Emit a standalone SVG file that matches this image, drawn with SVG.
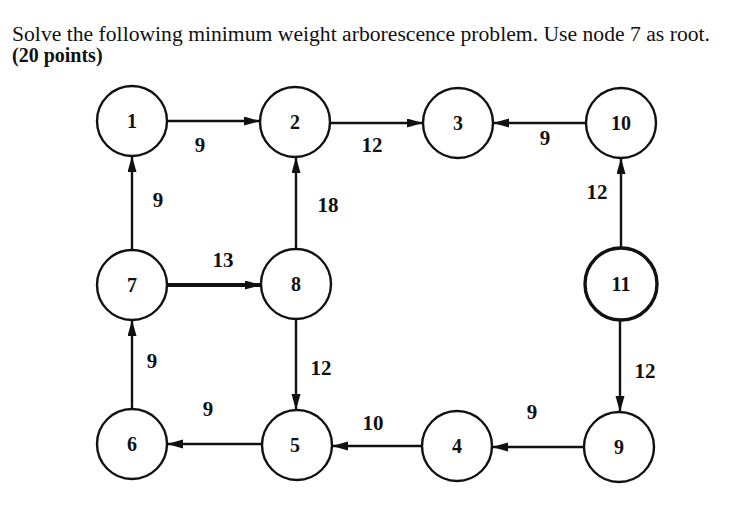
<svg xmlns="http://www.w3.org/2000/svg" width="736" height="531" viewBox="0 0 736 531">
<style>
.title{font-family:"Liberation Serif","Times New Roman",serif;font-size:20px;fill:#111}
.bold{font-weight:bold}
.node circle{fill:#fff;stroke:#111;stroke-width:2.4}
.node text{font-family:"Liberation Serif","Times New Roman",serif;font-size:20px;font-weight:bold;fill:#111;text-anchor:middle}
.edge{stroke:#111;stroke-width:2.4;fill:none;marker-end:url(#arr)}
.lbl{font-family:"Liberation Serif","Times New Roman",serif;font-size:21px;font-weight:bold;fill:#111;text-anchor:middle}
</style>
<defs>
<marker id="arr" markerUnits="userSpaceOnUse" markerWidth="17" markerHeight="10" refX="16" refY="4.5" orient="auto">
<path d="M0,0 L16,4.5 L0,9 z" fill="#111"/>
</marker>
</defs>
<rect width="736" height="531" fill="#fff"/>
<text class="title" x="12" y="41" textLength="698" lengthAdjust="spacingAndGlyphs">Solve the following minimum weight arborescence problem. Use node 7 as root.</text>
<text class="title bold" x="12" y="62">(20 points)</text>
<g id="connectors">
<line class="edge" x1="167" y1="121" x2="260" y2="121"/>
<line class="edge" x1="132" y1="250" x2="132" y2="156"/>
<line class="edge" x1="296" y1="249" x2="296" y2="157"/>
<line class="edge" x1="167" y1="285" x2="261" y2="285" style="stroke-width:4"/>
<line class="edge" x1="330" y1="123" x2="423" y2="123"/>
<line class="edge" x1="586" y1="123" x2="493" y2="123"/>
<line class="edge" x1="621" y1="247" x2="621" y2="158"/>
<line class="edge" x1="620" y1="321" x2="620" y2="412"/>
<line class="edge" x1="584" y1="447" x2="492" y2="447"/>
<line class="edge" x1="422" y1="446" x2="332" y2="446"/>
<line class="edge" x1="296" y1="319" x2="296" y2="410"/>
<line class="edge" x1="261" y1="444" x2="167" y2="444"/>
<line class="edge" x1="132" y1="409" x2="132" y2="320"/>
<text class="lbl" x="200" y="152">9</text>
<text class="lbl" x="158" y="207">9</text>
<text class="lbl" x="328" y="212">18</text>
<text class="lbl" x="223" y="267">13</text>
<text class="lbl" x="372" y="152">12</text>
<text class="lbl" x="545" y="145">9</text>
<text class="lbl" x="597" y="199">12</text>
<text class="lbl" x="645" y="378">12</text>
<text class="lbl" x="532" y="419">9</text>
<text class="lbl" x="373" y="430">10</text>
<text class="lbl" x="321" y="375">12</text>
<text class="lbl" x="208" y="416">9</text>
<text class="lbl" x="152" y="368">9</text>
</g>
<g id="node1" class="node"><circle cx="132" cy="121" r="35"/><text x="132" y="128">1</text></g>
<g id="node2" class="node"><circle cx="295" cy="122" r="35"/><text x="295" y="129">2</text></g>
<g id="node3" class="node"><circle cx="458" cy="123" r="35"/><text x="458" y="130">3</text></g>
<g id="node10" class="node"><circle cx="621" cy="123" r="35"/><text x="621" y="130">10</text></g>
<g id="node7" class="node"><circle cx="132" cy="285" r="35"/><text x="132" y="292">7</text></g>
<g id="node8" class="node"><circle cx="296" cy="284" r="35"/><text x="296" y="291">8</text></g>
<g id="node11" class="node"><circle cx="621" cy="284" r="36" style="stroke-width:3.4"/><text x="621" y="291">11</text></g>
<g id="node6" class="node"><circle cx="132" cy="444" r="35"/><text x="132" y="451">6</text></g>
<g id="node5" class="node"><circle cx="297" cy="445" r="35"/><text x="295" y="452">5</text></g>
<g id="node4" class="node"><circle cx="457" cy="446" r="35"/><text x="457" y="453">4</text></g>
<g id="node9" class="node"><circle cx="619" cy="447" r="35"/><text x="619" y="454">9</text></g>
</svg>
